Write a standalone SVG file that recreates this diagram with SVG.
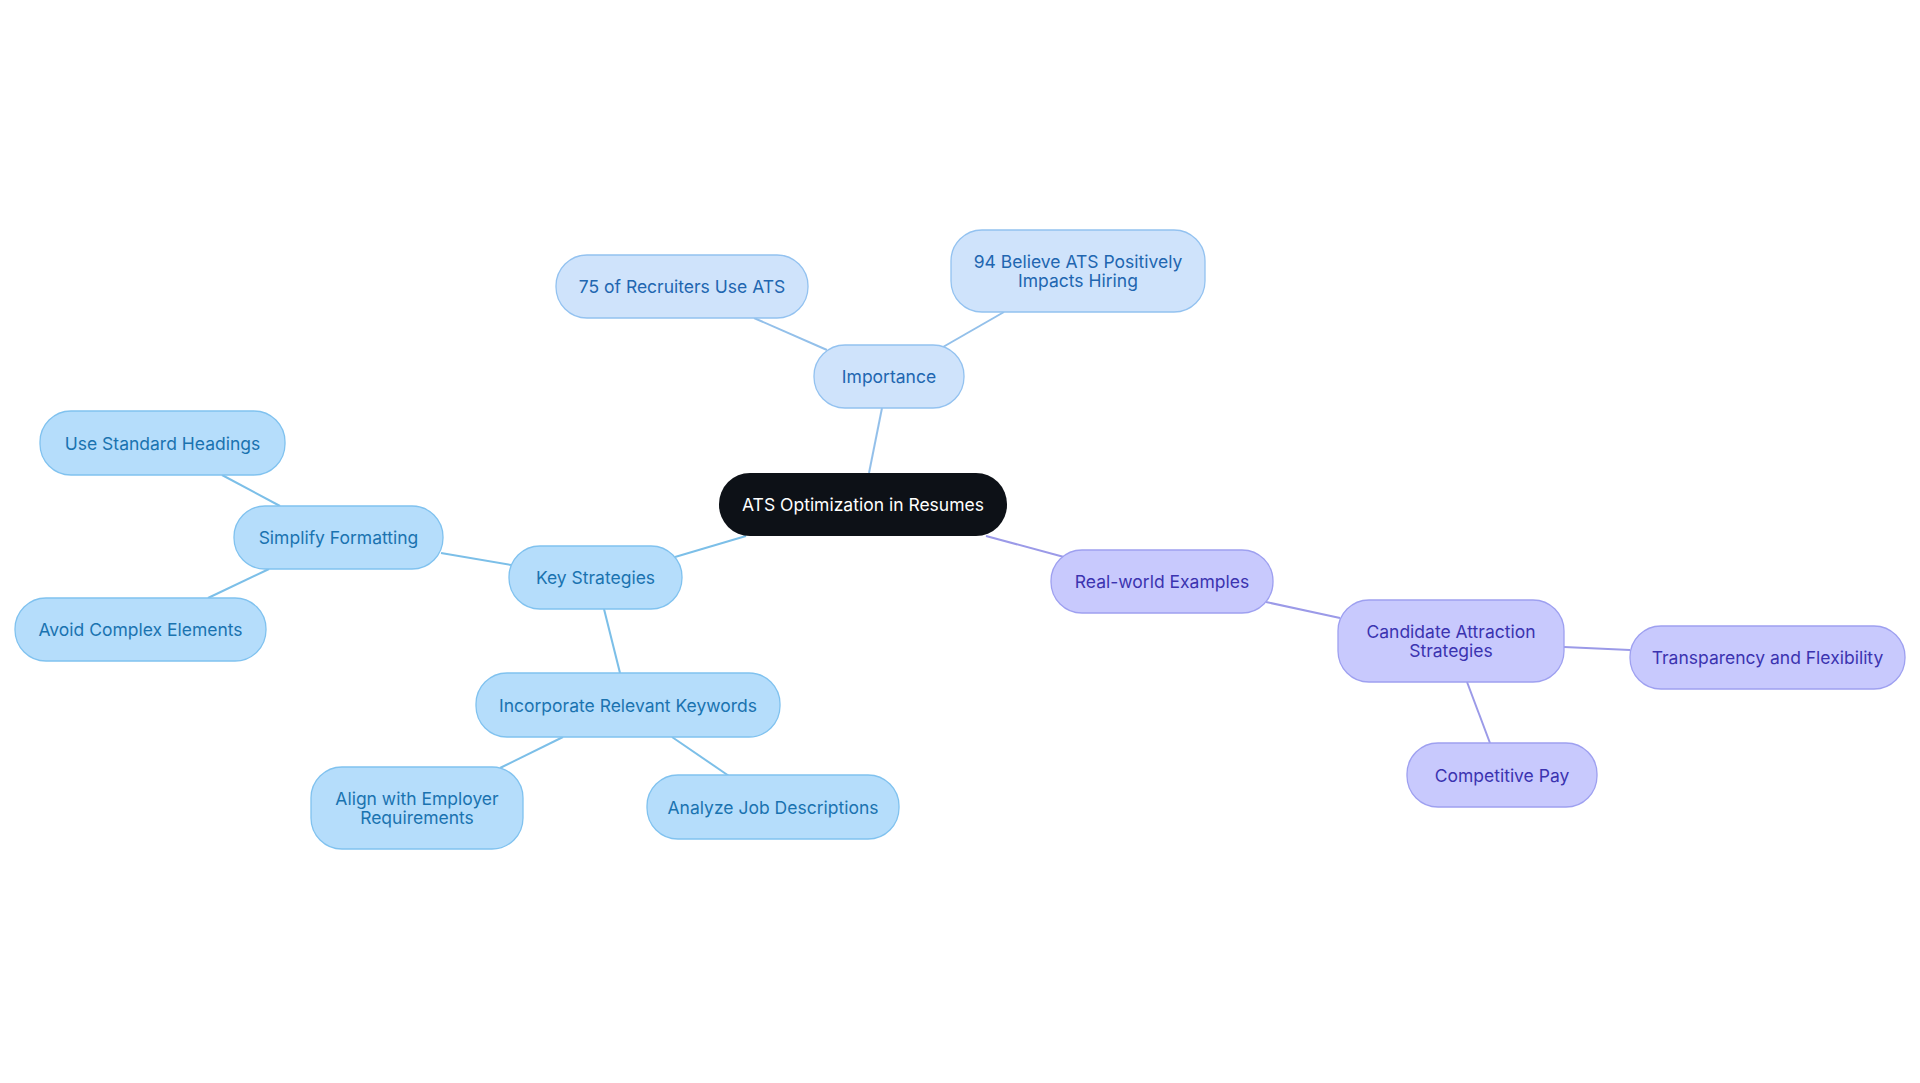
<svg xmlns="http://www.w3.org/2000/svg" width="1920" height="1083" viewBox="0 0 1920 1083">
<style>
text{font-family:Inter,"Liberation Sans",sans-serif;font-size:17.5px;text-anchor:middle;dominant-baseline:central}
.a rect{fill:#cfe3fb;stroke:#93c2f0;stroke-width:1.3}.a text{fill:#2166b0}
.b rect{fill:#b5ddfb;stroke:#80c2ef;stroke-width:1.3}.b text{fill:#1a73b0}
.c rect{fill:#c8c9fd;stroke:#9ea0f0;stroke-width:1.3}.c text{fill:#3b33b0}
.e line{stroke-width:2}
</style>
<rect width="1920" height="1083" fill="#fff"/>
<g id="edges" class="e">
<line x1="869" y1="473" x2="882" y2="408" stroke="#93c0ea"/>
<line x1="827" y1="350" x2="754" y2="318" stroke="#93c0ea"/>
<line x1="943" y1="347" x2="1004" y2="312" stroke="#93c0ea"/>
<line x1="746" y1="536" x2="675" y2="557" stroke="#7cbfe8"/>
<line x1="511" y1="565" x2="441" y2="553" stroke="#7cbfe8"/>
<line x1="280" y1="506" x2="222" y2="475" stroke="#7cbfe8"/>
<line x1="269" y1="569" x2="208" y2="598" stroke="#7cbfe8"/>
<line x1="604" y1="609" x2="620" y2="673" stroke="#7cbfe8"/>
<line x1="563" y1="737" x2="500" y2="768" stroke="#7cbfe8"/>
<line x1="672" y1="737" x2="729" y2="776" stroke="#7cbfe8"/>
<line x1="986" y1="536" x2="1064" y2="557" stroke="#9b9ae8"/>
<line x1="1266" y1="602" x2="1340" y2="618" stroke="#9b9ae8"/>
<line x1="1564" y1="647" x2="1630" y2="650" stroke="#9b9ae8"/>
<line x1="1467" y1="682" x2="1490" y2="743" stroke="#9b9ae8"/>
</g>
<g id="center"><rect x="719" y="473" width="288" height="63" rx="31" fill="#0d1117"/><text x="863" y="504.5" fill="#fff">ATS Optimization in Resumes</text></g>
<g id="importance" class="a"><rect x="814" y="345" width="150" height="63" rx="31"/><text x="889" y="376.5">Importance</text></g>
<g id="recruiters" class="a"><rect x="556" y="255" width="252" height="63" rx="31"/><text x="682" y="286.5">75 of Recruiters Use ATS</text></g>
<g id="believe" class="a"><rect x="951" y="230" width="254" height="82" rx="31"/><text x="1078" y="261">94 Believe ATS Positively</text><text x="1078" y="280">Impacts Hiring</text></g>
<g id="key" class="b"><rect x="509" y="546" width="173" height="63" rx="31"/><text x="595.5" y="577.5">Key Strategies</text></g>
<g id="simplify" class="b"><rect x="234" y="506" width="209" height="63" rx="31"/><text x="338.5" y="537.5">Simplify Formatting</text></g>
<g id="headings" class="b"><rect x="40" y="411" width="245" height="64" rx="31"/><text x="162.5" y="443">Use Standard Headings</text></g>
<g id="avoid" class="b"><rect x="15" y="598" width="251" height="63" rx="31"/><text x="140.5" y="629.5">Avoid Complex Elements</text></g>
<g id="keywords" class="b"><rect x="476" y="673" width="304" height="64" rx="31"/><text x="628" y="705">Incorporate Relevant Keywords</text></g>
<g id="align" class="b"><rect x="311" y="767" width="212" height="82" rx="31"/><text x="417" y="798">Align with Employer</text><text x="417" y="817">Requirements</text></g>
<g id="analyze" class="b"><rect x="647" y="775" width="252" height="64" rx="31"/><text x="773" y="807">Analyze Job Descriptions</text></g>
<g id="real" class="c"><rect x="1051" y="550" width="222" height="63" rx="31"/><text x="1162" y="581.5">Real-world Examples</text></g>
<g id="candidate" class="c"><rect x="1338" y="600" width="226" height="82" rx="31"/><text x="1451" y="631">Candidate Attraction</text><text x="1451" y="650">Strategies</text></g>
<g id="transparency" class="c"><rect x="1630" y="626" width="275" height="63" rx="31"/><text x="1767.5" y="657.5">Transparency and Flexibility</text></g>
<g id="pay" class="c"><rect x="1407" y="743" width="190" height="64" rx="31"/><text x="1502" y="775">Competitive Pay</text></g>
</svg>
